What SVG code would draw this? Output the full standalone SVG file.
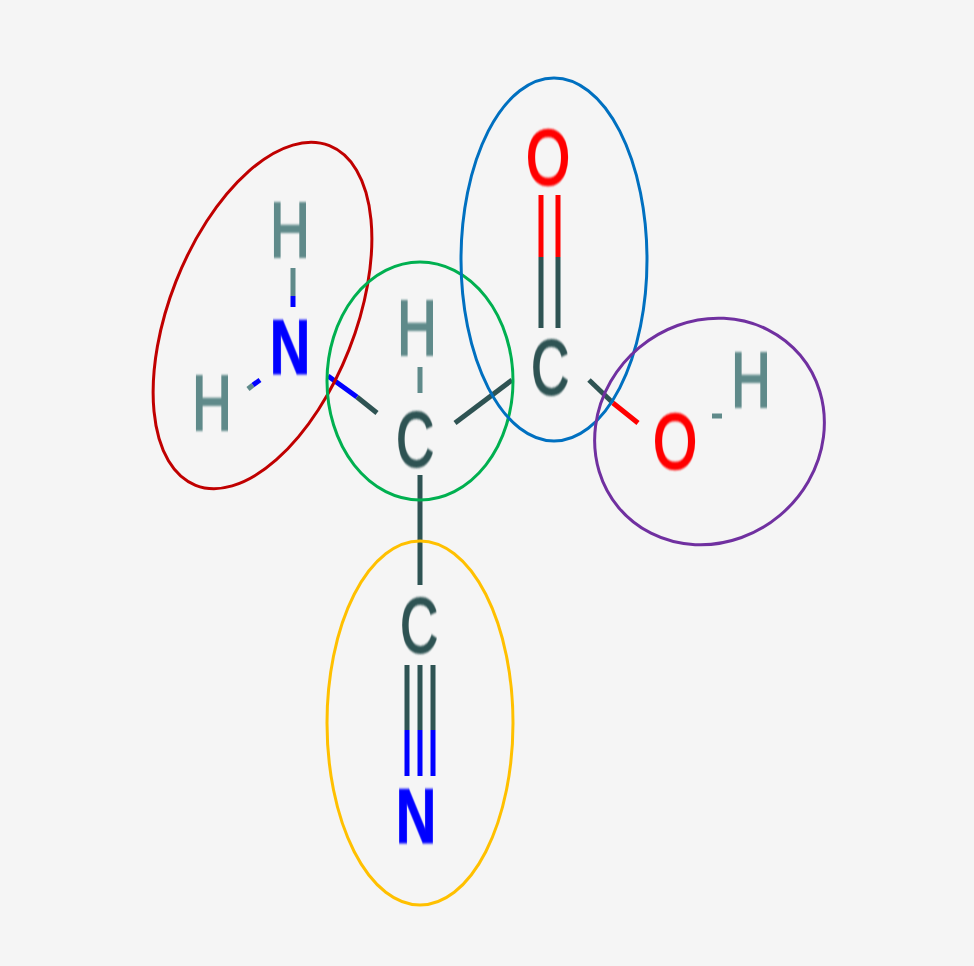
<svg xmlns="http://www.w3.org/2000/svg" width="974" height="966" viewBox="0 0 974 966">
<style>
text{font-family:"Liberation Sans",Arial,sans-serif;font-size:78px;text-anchor:middle;filter:url(#soft)}
.c{fill:#2f5353;stroke:#2f5353;stroke-width:2.2px}
.h{fill:#5f8a8a;stroke:#5f8a8a;stroke-width:2.2px}
.n{fill:#0000ff;stroke:#0000ff;stroke-width:1px;font-weight:700}
.o{fill:#ff0000;stroke:#ff0000;stroke-width:2.5px}
.b{fill:none;stroke-width:5;filter:url(#softline)}
.kc{stroke:#2f5353}.kh{stroke:#5f8a8a}.kn{stroke:#0000ff}.ko{stroke:#ff0000}
ellipse{fill:none;stroke-width:3}
</style>
<defs>
<filter id="soft" x="-20%" y="-20%" width="140%" height="140%"><feGaussianBlur stdDeviation="0.8"/></filter>
<filter id="softline" filterUnits="userSpaceOnUse" x="0" y="0" width="974" height="966"><feGaussianBlur stdDeviation="0.6"/></filter>
</defs>
<rect width="974" height="966" fill="#f5f5f5"/>
<g id="connectors">
<path class="b kh" d="M293 268V296"/><path class="b kn" d="M293 296V307"/>
<path class="b kh" d="M248 389L253 385"/><path class="b kn" d="M253 385L260 380"/>
<path class="b kn" d="M328 376L357 397"/><path class="b kc" d="M357 397L377 413"/>
<path class="b kh" d="M420 367V393"/>
<path class="b kc" d="M455 423L512 380"/>
<path class="b kc" d="M541 328V257M558 328V257"/><path class="b ko" d="M541 257V195M558 257V195"/>
<path class="b kc" d="M589 380L613 403"/><path class="b ko" d="M613 403L638 423"/>
<path class="b kh" d="M712 416H722"/>
<path class="b kc" d="M420 475V585"/>
<path class="b kc" d="M407 665V730M420 665V730M433 665V730"/><path class="b kn" d="M407 730V776M420 730V776M433 730V776"/>
</g>
<g id="atom-h-top"><text class="h" transform="translate(290 257) scale(.7 1)">H</text></g>
<g id="atom-n-amine"><text class="n" transform="translate(290 374) scale(.72 1)">N</text></g>
<g id="atom-h-left"><text class="h" transform="translate(212 430) scale(.7 1)">H</text></g>
<g id="atom-h-center"><text class="h" transform="translate(417 355) scale(.7 1)">H</text></g>
<g id="atom-c-center"><text class="c" transform="translate(415 466) scale(.67 1)">C</text></g>
<g id="atom-o-top"><text class="o" transform="translate(548 184) scale(.72 1)">O</text></g>
<g id="atom-c-carboxyl"><text class="c" transform="translate(550 394) scale(.67 1)">C</text></g>
<g id="atom-o-right"><text class="o" transform="translate(675 468) scale(.72 1)">O</text></g>
<g id="atom-h-right"><text class="h" transform="translate(751 407) scale(.7 1)">H</text></g>
<g id="atom-c-nitrile"><text class="c" transform="translate(419 652) scale(.67 1)">C</text></g>
<g id="atom-n-nitrile"><text class="n" transform="translate(416 843) scale(.72 1)">N</text></g>
<g id="group-amine"><ellipse cx="262.5" cy="315.5" rx="93" ry="182.5" transform="rotate(21.5 262.5 315.5)" stroke="#c00000"/></g>
<g id="group-center"><ellipse cx="420" cy="381" rx="93" ry="119" stroke="#00b050"/></g>
<g id="group-carbonyl"><ellipse cx="554" cy="259.5" rx="93" ry="181.5" stroke="#0070c0"/></g>
<g id="group-hydroxyl"><ellipse cx="709.5" cy="431.5" rx="118.5" ry="109.5" transform="rotate(-40 709.5 431.5)" stroke="#7030a0"/></g>
<g id="group-nitrile"><ellipse cx="420" cy="723" rx="93" ry="182" stroke="#ffc000"/></g>
</svg>
